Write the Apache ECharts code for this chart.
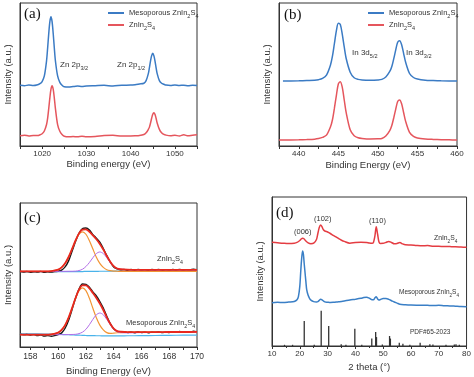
<!DOCTYPE html>
<html>
<head>
<meta charset="utf-8">
<script src="https://cdn.jsdelivr.net/npm/echarts@6.0.0/dist/echarts.min.js"></script>
<style>
html, body { margin: 0; padding: 0; background: #fff; }
#chart { width: 474px; height: 377px; }
</style>
</head>
<body>
<div id="chart"></div>
<script>
// (a) Zn 2p
const znEnergy = [1015, 1016, 1017, 1018, 1019, 1019.5, 1020, 1020.5, 1021, 1021.25, 1021.5, 1021.75, 1022, 1022.25, 1022.5, 1022.75, 1023, 1023.5, 1024, 1024.5, 1025, 1026, 1027, 1028, 1029, 1030, 1032, 1034, 1036, 1038, 1040, 1041, 1042, 1043, 1043.5, 1044, 1044.25, 1044.5, 1044.75, 1045, 1045.25, 1045.5, 1045.75, 1046, 1046.5, 1047, 1047.5, 1048, 1049, 1050, 1051, 1052, 1053, 1054, 1055];
const znMeso = [42.5, 42.2, 42.6, 42.3, 42.9, 43.6, 45.1, 49.0, 59.6, 68.7, 78.8, 87.0, 90.4, 87.0, 78.8, 68.7, 59.6, 49.0, 44.5, 42.5, 41.4, 41.2, 41.6, 41.9, 41.6, 42.0, 42.2, 42.4, 42.0, 42.5, 42.6, 42.9, 43.4, 43.9, 45.7, 50.6, 54.8, 59.5, 63.2, 64.8, 63.2, 59.5, 54.8, 50.6, 45.7, 43.9, 43.2, 42.6, 42.3, 42.7, 42.3, 42.5, 42.2, 42.5, 42.3];
const znBulk = [7.2, 7.6, 7.0, 7.4, 7.3, 7.8, 8.6, 10.5, 15.0, 19.5, 26.3, 33.7, 39.7, 42.2, 39.7, 33.7, 26.3, 15.0, 10.3, 8.0, 6.8, 6.4, 6.6, 6.5, 6.8, 6.5, 6.7, 7.3, 7.5, 7.0, 7.0, 7.1, 7.3, 8.0, 9.2, 11.6, 13.2, 16.1, 19.4, 22.2, 23.3, 22.2, 19.4, 16.1, 11.6, 9.2, 8.1, 7.6, 7.2, 7.5, 7.0, 7.8, 7.1, 7.6, 7.9];

// (b) In 3d
const inEnergy = [437.5, 438, 439, 440, 441, 442, 442.5, 443, 443.5, 444, 444.25, 444.5, 444.75, 445, 445.25, 445.5, 445.75, 446, 446.5, 447, 447.5, 448, 449, 450, 450.5, 451, 451.5, 451.75, 452, 452.25, 452.5, 452.75, 453, 453.25, 453.5, 454, 454.5, 455, 456, 457, 458, 459, 460];
const inMeso = [null, 45.5, 45.5, 45.6, 45.8, 46.0, 46.4, 47.3, 49.6, 56.5, 62.6, 71.5, 80.5, 85.8, 85.0, 78.1, 69.1, 61.0, 51.6, 47.7, 46.6, 46.2, 46.0, 46.2, 46.6, 48.2, 52.1, 55.4, 60.9, 67.0, 72.5, 73.6, 70.8, 64.8, 58.7, 50.7, 47.9, 46.8, 46.0, 45.8, 45.6, 45.5, 45.5];
const inBulk = [4.2, 4.2, 4.2, 4.3, 4.5, 4.8, 5.2, 6.0, 7.6, 13.3, 18.2, 26.3, 35.3, 43.4, 45.0, 41.0, 32.0, 23.1, 11.3, 7.2, 5.8, 5.3, 4.9, 5.0, 5.3, 7.0, 10.8, 14.1, 19.6, 25.6, 31.1, 32.2, 29.5, 23.4, 17.4, 9.5, 6.7, 5.6, 4.9, 4.6, 4.4, 4.3, 4.2];

// (c) S 2p, raw points
const sRawEnergy = [157.25, 157.5, 157.75, 158, 158.25, 158.5, 158.75, 159, 159.25, 159.5, 159.75, 160, 160.25, 160.5, 160.75, 161, 161.25, 161.5, 161.75, 162, 162.25, 162.5, 162.75, 163, 163.25, 163.5, 163.75, 164, 164.25, 164.5, 164.75, 165, 165.25, 165.5, 165.75, 166, 166.25, 166.5, 166.75, 167, 167.25, 167.5, 167.75, 168, 168.25, 168.5, 168.75, 169, 169.25, 169.5, 169.75, 170];
const sRawBulk = [52.6, 52.1, 52.4, 51.9, 52.3, 52.0, 52.5, 51.8, 52.2, 52.0, 52.4, 52.6, 53.4, 55.6, 59.8, 66.5, 73.2, 79.0, 82.3, 82.6, 81.2, 78.0, 75.6, 72.8, 68.4, 63.5, 59.0, 55.6, 54.3, 53.6, 53.9, 53.2, 53.8, 53.3, 53.9, 53.4, 53.7, 53.2, 53.8, 53.5, 53.9, 53.3, 53.7, 53.4, 53.8, 53.5, 53.9, 53.4, 53.7, 53.6, 54.0, 53.6];
const sRawMeso = [8.9, 8.4, 8.7, 8.2, 8.6, 7.9, 8.3, 7.6, 8.0, 7.5, 7.9, 8.6, 9.8, 13.0, 18.6, 26.0, 33.8, 40.2, 43.8, 43.5, 41.6, 38.2, 35.4, 31.6, 27.0, 21.4, 16.2, 12.6, 10.8, 10.2, 10.6, 10.0, 10.5, 9.9, 10.6, 10.1, 10.4, 9.8, 10.5, 10.2, 10.7, 10.0, 10.4, 10.1, 10.6, 10.2, 10.8, 10.3, 10.6, 10.4, 10.9, 10.5];

// (c) fitted curves
const sFitEnergy = [157.25, 158, 159, 159.5, 160, 160.25, 160.5, 160.75, 161, 161.25, 161.5, 161.75, 162, 162.25, 162.5, 162.75, 163, 163.25, 163.5, 163.75, 164, 164.25, 164.5, 165, 165.5, 166, 167, 168, 169, 170];
const sBulkEnv = [52.5, 52.5, 52.5, 52.7, 53.7, 55.3, 58.1, 62.5, 68.1, 74.0, 78.9, 81.5, 81.7, 80.0, 77.5, 74.8, 71.6, 67.7, 63.2, 59.2, 56.1, 54.5, 54.0, 53.7, 53.6, 53.5, 53.5, 53.5, 53.5, 53.5];
const sBulkP32 = [52.5, 52.5, 52.5, 52.7, 53.7, 55.3, 58.1, 62.4, 68.0, 73.8, 78.3, 80.0, 78.3, 73.8, 68.0, 62.4, 58.1, 55.3, 53.7, 53.0, 52.7, 52.6, 52.5, 52.5, 52.5, 52.5, 52.5, 52.5, 52.5, 52.5];
const sBulkP12 = [52.5, 52.5, 52.5, 52.5, 52.5, 52.5, 52.55, 52.6, 52.6, 52.7, 53.1, 54.0, 55.9, 58.7, 62.0, 64.9, 66.0, 64.9, 62.0, 58.7, 55.9, 54.4, 54.0, 53.7, 53.6, 53.5, 53.5, 53.5, 53.5, 53.5];
const sBulkBg = [52.3, 52.3, 52.3, 52.3, 52.3, 52.3, 52.3, 52.3, 52.4, 52.4, 52.4, 52.4, 52.5, 52.5, 52.5, 52.5, 52.6, 52.6, 52.6, 52.6, 52.7, 52.7, 52.7, 52.7, 52.7, 52.8, 52.8, 52.8, 52.9, 52.9];
const sMesoEnv = [8.6, 8.6, 8.6, 8.8, 10.0, 11.9, 15.2, 20.4, 27.0, 34.0, 39.8, 42.8, 42.8, 40.7, 37.5, 34.1, 30.2, 25.7, 20.6, 16.1, 12.7, 11.0, 10.6, 10.3, 10.3, 10.3, 10.3, 10.4, 10.4, 10.5];
const sMesoP32 = [8.6, 8.6, 8.6, 8.8, 10.0, 11.9, 15.2, 20.3, 26.9, 33.8, 39.1, 41.1, 39.1, 33.8, 26.9, 20.3, 15.2, 11.9, 10.0, 9.4, 9.6, 9.9, 10.0, 10.1, 10.2, 10.3, 10.3, 10.3, 10.3, 10.3];
const sMesoP12 = [8.6, 8.6, 8.6, 8.6, 8.6, 8.6, 8.6, 8.65, 8.7, 8.8, 9.3, 10.3, 12.3, 15.5, 19.2, 22.4, 23.6, 22.4, 19.2, 15.5, 12.3, 10.6, 10.0, 9.8, 9.9, 10.0, 10.1, 10.2, 10.2, 10.3];
const sMesoBg = [9.2, 9.1, 9.0, 8.9, 8.8, 8.7, 8.6, 8.5, 8.4, 8.3, 8.2, 8.1, 8.0, 7.9, 7.9, 7.8, 7.8, 7.7, 7.7, 7.7, 7.7, 7.7, 7.7, 7.8, 7.8, 7.9, 8.0, 8.1, 8.2, 8.3];

// (d) XRD
const xrdBulkAngle = [10, 12, 14, 16, 18, 19, 20, 20.5, 21, 21.5, 22, 23, 24, 25, 26, 26.5, 27, 27.5, 28, 28.5, 29, 30, 31, 32, 33, 34, 35, 36, 38, 40, 42, 44, 45, 46, 46.5, 47, 47.5, 48, 48.5, 49, 50, 51, 52, 53, 54, 55, 56, 57, 58, 60, 62, 64, 66, 68, 70, 72, 74, 76, 78, 80];
const xrdBulk = [69.6, 69.3, 69.0, 68.8, 69.0, 69.5, 70.8, 71.8, 72.3, 72.0, 70.8, 69.2, 68.6, 69.0, 71.5, 75.5, 79.5, 81.2, 80.0, 78.0, 77.2, 76.5, 75.5, 74.3, 73.2, 72.0, 71.0, 70.2, 69.0, 69.4, 69.6, 69.5, 69.1, 68.9, 69.5, 73.5, 80.0, 75.0, 69.8, 68.8, 68.9, 69.5, 70.2, 69.5, 68.6, 68.8, 69.5, 68.5, 67.9, 67.8, 67.5, 67.3, 67.4, 67.0, 66.9, 66.8, 66.7, 66.6, 66.4, 66.2];
const xrdMesoAngle = [10, 12, 14, 16, 18, 19, 19.5, 20, 20.3, 20.6, 21, 21.3, 21.6, 21.8, 22.2, 22.5, 23, 23.5, 24, 25, 26, 26.5, 27, 27.5, 28, 28.5, 29, 30, 31, 32, 33, 34, 35, 36, 38, 40, 42, 43, 44, 45, 46, 46.5, 47, 47.5, 48, 48.5, 49, 50, 51, 52, 53, 54, 55, 56, 58, 60, 62, 64, 66, 68, 70, 72, 74, 76, 78, 80];
const xrdMeso = [29.1, 29.3, 29.2, 29.5, 29.9, 31.0, 33.1, 40.0, 48.8, 57.0, 63.8, 61.5, 55.0, 51.0, 43.0, 37.6, 34.0, 32.0, 30.8, 29.8, 29.6, 29.8, 30.6, 31.3, 31.0, 30.2, 29.6, 29.4, 29.2, 29.3, 29.5, 29.7, 29.9, 30.2, 30.9, 31.4, 32.0, 32.5, 32.7, 32.1, 31.0, 31.0, 32.2, 33.0, 31.6, 30.9, 31.2, 31.8, 31.8, 31.3, 30.4, 29.5, 28.8, 28.0, 27.7, 27.5, 27.4, 27.4, 27.3, 27.2, 27.3, 27.0, 26.9, 26.7, 26.5, 26.4];
const pdfAngle = [14.5, 17.4, 21.6, 25.2, 27.7, 30.4, 34.9, 36.6, 39.8, 42.3, 45.9, 47.3, 47.6, 49.7, 52.3, 52.6, 55.8, 57.1, 59.6, 63.3, 66.8, 67.9, 72.6, 75.6, 76.2, 77.4];
const pdfIntensity = [0.8, 0.8, 16.8, 0.8, 23.7, 13.4, 1.2, 0.8, 11.6, 0.8, 5.1, 9.4, 6.0, 1.0, 6.7, 5.0, 2.2, 1.5, 0.8, 2.2, 1.2, 1.0, 0.8, 1.0, 1.2, 0.8];

const FONT = 'Liberation Sans, Arial, sans-serif';
const SERIF = 'Liberation Serif, Times New Roman, serif';
const BLUE = '#3b7bc4';
const RED = '#e5565d';

function pairs(xs, ys) {
    return xs.map((x, i) => [x, ys[i]]);
}

function subRich(size) {
    return {
        s: { fontSize: size, fontFamily: FONT, color: '#333', verticalAlign: 'bottom', padding: [0, 0, -2, 0] }
    };
}

function withSubs(name) {
    return name.replace(/(\d)/g, '{s|$1}');
}

function xAxisFor(grid, min, max, name, opts) {
    return Object.assign({
        type: 'value',
        gridIndex: grid,
        min: min,
        max: max,
        name: name,
        nameLocation: 'middle',
        nameGap: 13,
        nameTextStyle: { fontSize: 9.5, fontFamily: FONT, color: '#333' },
        axisLine: { lineStyle: { color: '#333', width: 1 } },
        axisTick: { length: 3, lineStyle: { color: '#333' } },
        axisLabel: { fontSize: 8, fontFamily: FONT, color: '#333', margin: 4 },
        splitLine: { show: false }
    }, opts);
}

function yAxisFor(grid) {
    return {
        type: 'value',
        gridIndex: grid,
        min: 0,
        max: 100,
        name: 'Intensity (a.u.)',
        nameLocation: 'middle',
        nameGap: 7,
        nameTextStyle: { fontSize: 9.5, fontFamily: FONT, color: '#333' },
        axisLine: { show: true, lineStyle: { color: '#333', width: 1 } },
        axisTick: { show: false },
        axisLabel: { show: false },
        splitLine: { show: false }
    };
}

function line(name, xi, xs, ys, color, width) {
    return {
        type: 'line',
        name: name,
        xAxisIndex: xi,
        yAxisIndex: xi,
        data: pairs(xs, ys),
        showSymbol: false,
        smooth: 0.3,
        lineStyle: { color: color, width: width },
        itemStyle: { color: color },
        silent: true
    };
}

function note(left, top, text, size) {
    return {
        type: 'text',
        left: left,
        top: top,
        style: {
            text: text,
            fontSize: size,
            fontFamily: FONT,
            fill: '#333',
            rich: subRich(size * 0.7)
        }
    };
}

function panelTag(left, top, text) {
    return {
        type: 'text',
        left: left,
        top: top,
        style: { text: text, fontSize: 15, fontFamily: SERIF, fill: '#111' }
    };
}

const legendBase = {
    orient: 'vertical',
    top: 4,
    itemWidth: 16,
    itemHeight: 2,
    itemGap: 2,
    icon: 'rect',
    data: ['Mesoporous ZnIn2S4', 'ZnIn2S4'],
    formatter: withSubs,
    textStyle: {
        fontSize: 7.5,
        fontFamily: FONT,
        color: '#333',
        rich: subRich(5.5)
    }
};

const chart = echarts.init(document.getElementById('chart'));
const gridStyle = { show: true, borderColor: '#333', borderWidth: 1, containLabel: false };

chart.setOption({
    animation: false,
    backgroundColor: '#fff',
    grid: [
        Object.assign({ left: 20, top: 3, width: 177, height: 143 }, gridStyle),
        Object.assign({ left: 279, top: 3, width: 178, height: 143 }, gridStyle),
        Object.assign({ left: 20, top: 203, width: 177, height: 144 }, gridStyle),
        Object.assign({ left: 272, top: 197, width: 195, height: 149 }, gridStyle)
    ],
    legend: [
        Object.assign({ left: 103 }, legendBase),
        Object.assign({ left: 363 }, legendBase)
    ],
    xAxis: [
        xAxisFor(0, 1015, 1055, 'Binding energy (eV)', {
            interval: 5,
            axisLabel: { fontSize: 8, fontFamily: FONT, color: '#333', margin: 4,
                formatter: v => (v % 10 === 0 ? String(v) : '') }
        }),
        xAxisFor(1, 437.5, 460, 'Binding Energy (eV)', {
            interval: 2.5,
            nameGap: 14,
            axisLabel: { fontSize: 8, fontFamily: FONT, color: '#333', margin: 4,
                formatter: v => (v % 5 === 0 ? String(v) : '') }
        }),
        xAxisFor(2, 157.25, 170, 'Binding Energy (eV)', {
            nameGap: 19,
            axisTick: { length: 3, lineStyle: { color: '#333' }, customValues: [158, 159, 160, 161, 162, 163, 164, 165, 166, 167, 168, 169, 170] },
            axisLabel: { fontSize: 8.5, fontFamily: FONT, color: '#333', margin: 5, customValues: [158, 160, 162, 164, 166, 168, 170] }
        }),
        xAxisFor(3, 10, 80, '2 theta (°)', {
            interval: 10,
            nameGap: 16,
            minorTick: { show: true, splitNumber: 2, length: 2, lineStyle: { color: '#333' } }
        })
    ],
    yAxis: [yAxisFor(0), yAxisFor(1), yAxisFor(2), yAxisFor(3)],
    series: [
        line('Mesoporous ZnIn2S4', 0, znEnergy, znMeso, BLUE, 1.5),
        line('ZnIn2S4', 0, znEnergy, znBulk, RED, 1.5),
        line('Mesoporous ZnIn2S4', 1, inEnergy, inMeso, BLUE, 1.5),
        line('ZnIn2S4', 1, inEnergy, inBulk, RED, 1.5),

        line('bg-bulk', 2, sFitEnergy, sBulkBg, '#4ab3ea', 1.2),
        line('bg-meso', 2, sFitEnergy, sMesoBg, '#4ab3ea', 1.2),
        line('raw-bulk', 2, sRawEnergy, sRawBulk, '#1a1a1a', 1.4),
        line('raw-meso', 2, sRawEnergy, sRawMeso, '#1a1a1a', 1.4),
        line('p32-bulk', 2, sFitEnergy, sBulkP32, '#f29535', 1.2),
        line('p32-meso', 2, sFitEnergy, sMesoP32, '#f29535', 1.2),
        line('p12-bulk', 2, sFitEnergy, sBulkP12, '#b36ee8', 1.0),
        line('p12-meso', 2, sFitEnergy, sMesoP12, '#b36ee8', 1.0),
        line('env-bulk', 2, sFitEnergy, sBulkEnv, '#e8281e', 1.8),
        line('env-meso', 2, sFitEnergy, sMesoEnv, '#e8281e', 1.8),

        line('xrd-bulk', 3, xrdBulkAngle, xrdBulk, '#e43c42', 1.5),
        line('xrd-meso', 3, xrdMesoAngle, xrdMeso, '#3a7fc6', 1.5),
        {
            type: 'bar',
            name: 'pdf',
            xAxisIndex: 3,
            yAxisIndex: 3,
            data: pairs(pdfAngle, pdfIntensity),
            barWidth: 1.3,
            itemStyle: { color: '#333' },
            silent: true
        }
    ],
    graphic: [
        panelTag(24, 7, '(a)'),
        panelTag(284, 8, '(b)'),
        panelTag(24, 211, '(c)'),
        panelTag(276, 206, '(d)'),
        note(60, 61, 'Zn 2p{s|3/2}', 8),
        note(117, 61, 'Zn 2p{s|1/2}', 8),
        note(352, 49, 'In 3d{s|5/2}', 8),
        note(406, 49, 'In 3d{s|3/2}', 8),
        note(157, 255, withSubs('ZnIn2S4'), 7.5),
        note(126, 319, withSubs('Mesoporous ZnIn2S4'), 7.5),
        note(294, 228, '(006)', 7.5),
        note(314, 215, '(102)', 7.5),
        note(369, 217, '(110)', 7.5),
        note(434, 235, withSubs('ZnIn2S4'), 6.8),
        note(399, 289, withSubs('Mesoporous ZnIn2S4'), 6.5),
        note(410, 329, 'PDF#65-2023', 6.5)
    ]
});
</script>
</body>
</html>
